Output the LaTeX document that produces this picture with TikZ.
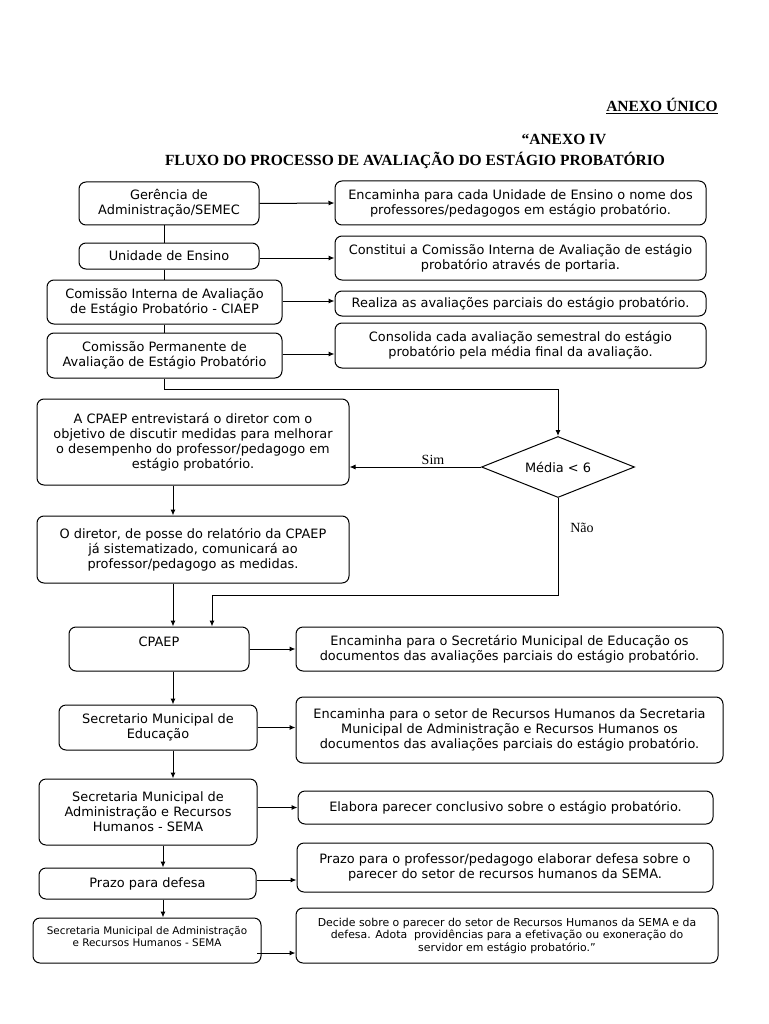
\documentclass[tikz,border=0pt]{standalone}
\usepackage{fontspec}
\setmainfont{DejaVu Sans}
\newfontfamily\seriffont{Liberation Serif}
\usetikzlibrary{shapes.geometric,arrows.meta}
\begin{document}
\begin{tikzpicture}[x=1pt,y=-1pt,
 box/.style={draw,rounded corners=7pt,line width=1pt,align=center,inner sep=0pt,font=\fontsize{12.9}{15}\selectfont},
 txt/.style={align=center,inner sep=0pt},
 conn/.style={line width=1pt},
 arr/.style={conn,-{Latex[length=6pt,width=5pt]}},
 lbl/.style={font=\seriffont\fontsize{14}{16}\selectfont,inner sep=0pt},
 ttl/.style={font=\seriffont\bfseries\fontsize{15.5}{18}\selectfont,inner sep=0pt}]
\useasboundingbox (0,0) rectangle (768,1024);
\fill[white] (0,0) rectangle (768,1024);
% titles
\node[ttl,anchor=base east] (anexo) at (718,112) {\underline{ANEXO ÚNICO}};
\node[ttl,anchor=base] (anexoiv) at (564,145) {“ANEXO IV};
\node[ttl,anchor=base] (fluxo) at (415,166) {FLUXO DO PROCESSO DE AVALIAÇÃO DO ESTÁGIO PROBATÓRIO};
% left column top
\node[box,minimum width=180pt,minimum height=43pt] (g1) at (169,203.5) {Gerência de\\Administração/SEMEC};
\node[box,minimum width=180pt,minimum height=26pt] (un) at (169,256) {Unidade de Ensino};
\node[box,minimum width=235pt,minimum height=44pt] (ci) at (164.5,302) {Comissão Interna de Avaliação\\de Estágio Probatório - CIAEP};
\node[box,minimum width=235pt,minimum height=45pt] (cp) at (164.5,355.5) {Comissão Permanente de\\Avaliação de Estágio Probatório};
% right column top
\node[box,minimum width=371pt,minimum height=44pt] (r1) at (520.5,203) {Encaminha para cada Unidade de Ensino o nome dos\\professores/pedagogos em estágio probatório.};
\node[box,minimum width=371pt,minimum height=44pt] (r2) at (520.5,258) {Constitui a Comissão Interna de Avaliação de estágio\\probatório através de portaria.};
\node[box,minimum width=371pt,minimum height=25pt] (r3) at (520.5,303.5) {Realiza as avaliações parciais do estágio probatório.};
\node[box,minimum width=371pt,minimum height=45pt] (r4) at (520.5,345.5) {Consolida cada avaliação semestral do estágio\\probatório pela média final da avaliação.};
% decision
\node[draw,diamond,aspect=2.5,line width=1pt,minimum width=153pt,minimum height=61pt,inner sep=0pt,font=\fontsize{12.9}{15}\selectfont] (d) at (558,467) {Média < 6};
\node[box,minimum width=312pt,minimum height=86pt] (a) at (193,442) {A CPAEP entrevistará o diretor com o\\objetivo de discutir medidas para melhorar\\o desempenho do professor/pedagogo em\\estágio probatório.};
\node[box,minimum width=312pt,minimum height=67pt] (b) at (193,549.5) {O diretor, de posse do relatório da CPAEP\\já sistematizado, comunicará ao\\professor/pedagogo as medidas.};
% lower
\node[box,minimum width=180pt,minimum height=44pt] (cpaep) at (159,649) {};
\node[txt,font=\fontsize{12.9}{15}\selectfont] (cpaeptxt) at (159,642) {CPAEP};
\node[box,minimum width=427pt,minimum height=44pt] (r5) at (509.5,649) {Encaminha para o Secretário Municipal de Educação os\\documentos das avaliações parciais do estágio probatório.};
\node[box,minimum width=198pt,minimum height=45pt] (sec) at (158,727.5) {Secretario Municipal de\\Educação};
\node[box,minimum width=427pt,minimum height=66pt] (r6) at (509.5,730) {Encaminha para o setor de Recursos Humanos da Secretaria\\Municipal de Administração e Recursos Humanos os\\documentos das avaliações parciais do estágio probatório.};
\node[box,minimum width=218pt,minimum height=66pt] (sema) at (148,812) {Secretaria Municipal de\\Administração e Recursos\\Humanos - SEMA};
\node[box,minimum width=415pt,minimum height=33pt] (r7) at (505.5,807.5) {Elabora parecer conclusivo sobre o estágio probatório.};
\node[box,minimum width=217pt,minimum height=31pt] (prazo) at (147.5,883.5) {Prazo para defesa};
\node[box,minimum width=416pt,minimum height=49pt] (r8) at (505,867.5) {Prazo para o professor/pedagogo elaborar defesa sobre o\\parecer do setor de recursos humanos da SEMA.};
\node[box,minimum width=228pt,minimum height=45pt] (sl) at (147,940.5) {};
\node[txt,font=\fontsize{10.4}{12}\selectfont] (sltxt) at (147,937) {Secretaria Municipal de Administração\\e Recursos Humanos - SEMA};
\node[box,font=\fontsize{10.9}{12.5}\selectfont,minimum width=422pt,minimum height=55pt] (r9) at (507,935.5) {Decide sobre o parecer do setor de Recursos Humanos da SEMA e da\\defesa. Adota \ providências para a efetivação ou exoneração do\\servidor em estágio probatório.”};
% coordinates
\coordinate (xa) at (164,0);
\coordinate (xb) at (173,0);
\coordinate (xc) at (163,0);
\coordinate (turn) at (164,389);
\coordinate (nao) at (212,595);
\coordinate (lout) at (257,953);
% vertical chain top
\draw[conn] (g1.south -| xa) -- (un.north -| xa);
\draw[conn] (un.south -| xa) -- (ci.north -| xa);
\draw[conn] (ci.south -| xa) -- (cp.north -| xa);
\draw[arr] (cp.south -| xa) -- (turn) -| (d.north);
% right arrows
\draw[arr] (g1.east) -- (r1.west);
\draw[arr] (un.east |- r2.west) -- (r2.west);
\draw[arr] (ci.east |- 0,301) -- (r3.west |- 0,301);
\draw[arr] (cp.east |- 0,354) -- (r4.west |- 0,354);
% decision
\draw[arr] (d.west) -- (a.east |- d.west);
\node[lbl] (sim) at (433,460) {Sim};
\draw[arr] (d.south) |- (nao) -- (cpaep.north -| nao);
\node[lbl] (naolbl) at (582,528) {Não};
\draw[arr] (a.south -| xb) -- (b.north -| xb);
\draw[arr] (b.south -| xb) -- (cpaep.north -| xb);
% lower chain
\draw[arr] (cpaep.east) -- (r5.west);
\draw[arr] (cpaep.south -| xb) -- (sec.north -| xb);
\draw[arr] (sec.east) -- (r6.west |- sec.east);
\draw[arr] (sec.south -| xb) -- (sema.north -| xb);
\draw[arr] (sema.east |- r7.west) -- (r7.west);
\draw[arr] (sema.south -| xc) -- (prazo.north -| xc);
\draw[arr] (prazo.east |- 0,880) -- (r8.west |- 0,880);
\draw[arr] (prazo.south -| xc) -- (sl.north -| xc);
\draw[arr] (lout) -- (r9.west |- lout);
\end{tikzpicture}
\end{document}
